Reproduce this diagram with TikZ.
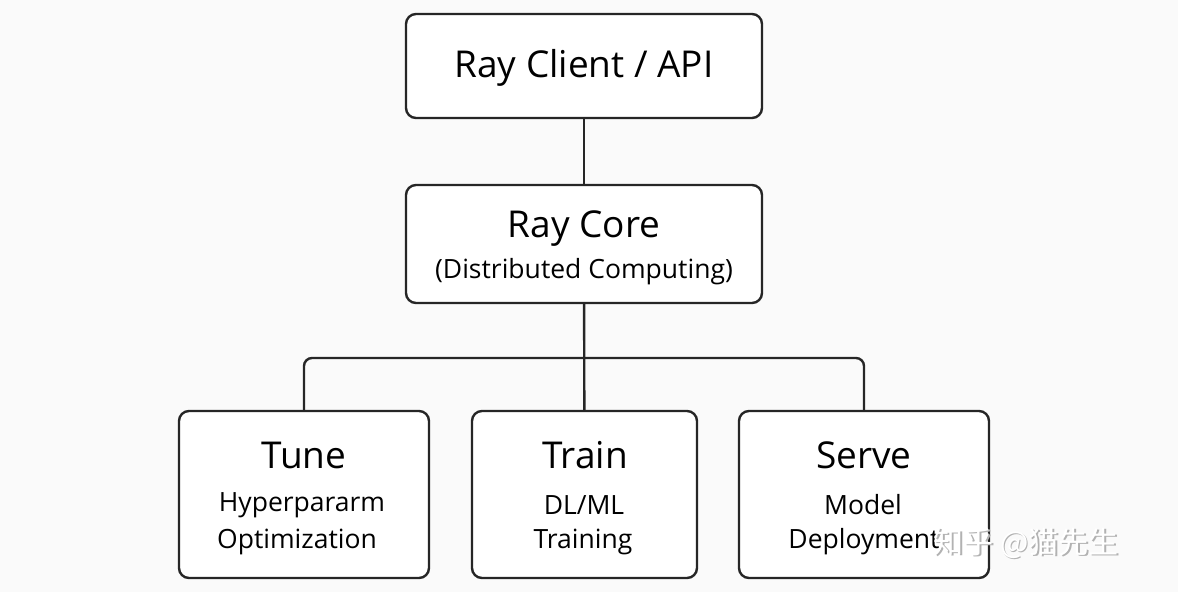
\documentclass[tikz,border=0pt]{standalone}
\usepackage{fontspec}
\setmainfont{Open Sans}
\newfontfamily\cjk{Noto Sans CJK SC}
\begin{document}
\begin{tikzpicture}[x=1pt,y=-1pt,
  box/.style={draw=black!85,line width=2.4pt,rounded corners=10pt,fill=white,inner sep=0pt},
  ttl/.style={font=\fontsize{37}{40}\selectfont,inner sep=0pt},
  sub/.style={font=\fontsize{26.5}{30}\selectfont,inner sep=0pt},
  ln/.style={draw=black!85,line width=2.4pt}]
\fill[black!2] (0,0) rectangle (1178,592);
\useasboundingbox (0,0) rectangle (1178,592);
\node[box,minimum width=356pt,minimum height=104pt] (client) at (584,66) {};
\node[ttl] (clientT) at (584,68) {Ray Client / API};
\node[box,minimum width=356pt,minimum height=118pt] (core) at (584,244) {};
\node[ttl] (coreT) at (584,229) {Ray Core};
\node[sub] (coreS) at (584,272) {(Distributed Computing)};
\node[box,minimum width=250pt,minimum height=167pt] (tune) at (304,494.5) {};
\node[box,minimum width=225pt,minimum height=167pt] (train) at (584.5,494.5) {};
\node[box,minimum width=250pt,minimum height=167pt] (serve) at (864,494.5) {};
\node[ttl] (tuneT) at (304,455) {Tune};
\node[sub] (tuneA) at (302,505) {Hyperpararm};
\node[sub] (tuneB) at (297,542) {Optimization};
\node[ttl] (trainT) at (585,455) {Train};
\node[sub] (trainA) at (584,505) {DL/ML};
\node[sub] (trainB) at (583,542) {Training};
\node[ttl] (serveT) at (864,455) {Serve};
\node[sub] (serveA) at (863,505) {Model};
\node[sub] (serveB) at (864,542) {Deployment};
\coordinate (j) at (584,358);
\draw[ln] (client) -- (core);
\draw[ln] (core) -- (train);
\draw[ln,rounded corners=8pt] (tune.north) |- (j) -| (serve.north);
\node[text=black!30,anchor=west] (wms) at (931.5,544.5) {\cjk\fontsize{30}{32}\selectfont 知乎 @猫先生};
\node[text=white,anchor=west] (wm) at (930,543) {\cjk\fontsize{30}{32}\selectfont 知乎 @猫先生};
\end{tikzpicture}
\end{document}
